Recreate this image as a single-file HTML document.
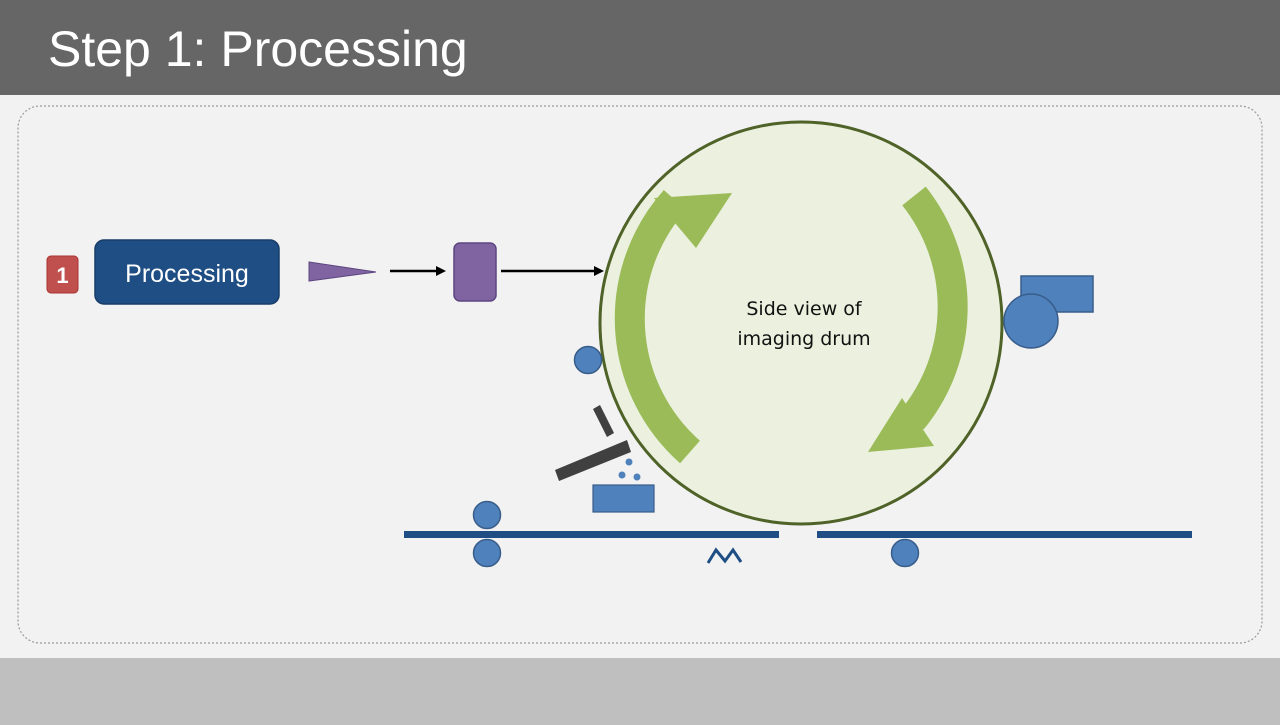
<!DOCTYPE html>
<html><head><meta charset="utf-8"><style>
body{margin:0;width:1280px;height:720px;overflow:hidden;background:#bfbfbf;font-family:"Liberation Sans",sans-serif}
</style></head><body>
<svg width="1280" height="720" viewBox="0 0 1280 720" xmlns="http://www.w3.org/2000/svg">
<rect x="0" y="0" width="1280" height="95" fill="#666666"/>
<rect x="0" y="95" width="1280" height="563" fill="#f2f2f2"/>
<rect x="0" y="658" width="1280" height="62" fill="#bfbfbf"/>
<text x="48" y="66" font-family="Liberation Sans" font-size="50" fill="#ffffff">Step 1: Processing</text>
<rect x="18" y="106" width="1244" height="537" rx="22" fill="#f2f2f2" stroke="#999" stroke-width="1.2" stroke-dasharray="2,2"/>
<rect x="47" y="256" width="31" height="37" rx="4" fill="#c0504d" stroke="#a33" stroke-width="1"/>
<text x="62.5" y="283" font-family="Liberation Sans" font-weight="bold" font-size="22" fill="#fff" text-anchor="middle">1</text>
<rect x="95" y="240" width="184" height="64" rx="9" fill="#1f4e84" stroke="#173d68" stroke-width="1.5"/>
<text x="187" y="282" font-family="Liberation Sans" font-size="25" fill="#fff" text-anchor="middle">Processing</text>
<polygon points="309,262 376,272 309,281" fill="#8064a2" stroke="#5c4680" stroke-width="1"/>
<line x1="390" y1="271" x2="438" y2="271" stroke="#000" stroke-width="2.5"/>
<polygon points="446,271 436,266 436,276" fill="#000"/>
<rect x="454" y="243" width="42" height="58" rx="6" fill="#8064a2" stroke="#5c4680" stroke-width="1.5"/>
<line x1="501" y1="271" x2="596" y2="271" stroke="#000" stroke-width="2.5"/>
<polygon points="604,271 594,266 594,276" fill="#000"/>
<circle cx="801" cy="323" r="201" fill="#ebf1de" stroke="#4f6228" stroke-width="3"/>
<path d="M 690 452 A 178 178 0 0 1 675 200" fill="none" stroke="#9bbb59" stroke-width="30"/>
<polygon points="732,193 696,248 654,198" fill="#9bbb59"/>
<path d="M 914 196 A 178 178 0 0 1 912 420" fill="none" stroke="#9bbb59" stroke-width="30"/>
<polygon points="868,452 902,398 934,446" fill="#9bbb59"/>
<text x="804" y="315" font-family="DejaVu Sans" font-size="19" fill="#111" text-anchor="middle">Side view of</text>
<text x="804" y="345" font-family="DejaVu Sans" font-size="19" fill="#111" text-anchor="middle">imaging drum</text>
<rect x="1021" y="276" width="72" height="36" fill="#4f81bd" stroke="#385d8a" stroke-width="1.5"/>
<circle cx="1031" cy="321" r="27" fill="#4f81bd" stroke="#385d8a" stroke-width="1.5"/>
<circle cx="588" cy="360" r="13.5" fill="#4f81bd" stroke="#385d8a" stroke-width="1.5"/>
<polygon points="593,409 600,405 614,433 607,437" fill="#404040"/>
<polygon points="555,470 627,440 631,452 559,481" fill="#404040"/>
<circle cx="629" cy="462" r="3.5" fill="#4f81bd"/>
<circle cx="622" cy="475" r="3.5" fill="#4f81bd"/>
<circle cx="637" cy="477" r="3.5" fill="#4f81bd"/>
<rect x="593" y="485" width="61" height="27" fill="#4f81bd" stroke="#385d8a" stroke-width="1.2"/>
<rect x="404" y="531" width="375" height="7" fill="#1f4e84"/>
<rect x="817" y="531" width="375" height="7" fill="#1f4e84"/>
<circle cx="487" cy="515" r="13.5" fill="#4f81bd" stroke="#385d8a" stroke-width="1.5"/>
<circle cx="487" cy="553" r="13.5" fill="#4f81bd" stroke="#385d8a" stroke-width="1.5"/>
<circle cx="905" cy="553" r="13.5" fill="#4f81bd" stroke="#385d8a" stroke-width="1.5"/>
<polyline points="708,563 716,550 725,561 733,550 741,562" fill="none" stroke="#1f4e84" stroke-width="3"/>
</svg>
</body></html>
